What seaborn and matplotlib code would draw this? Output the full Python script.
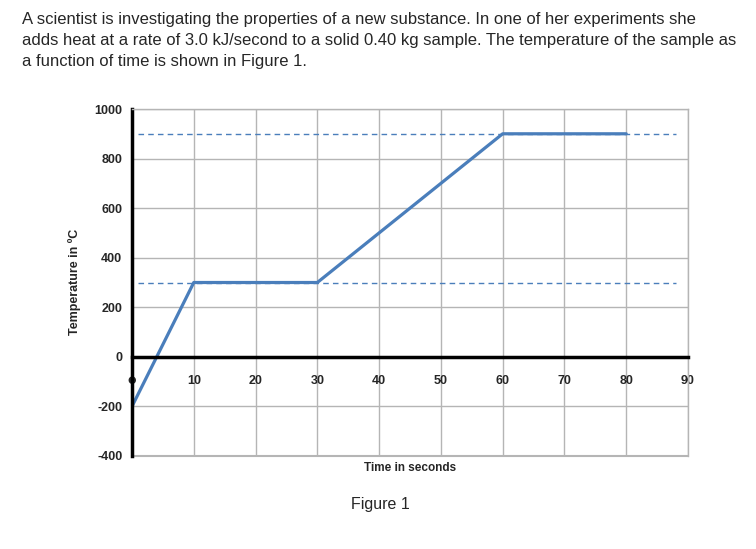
import numpy as np
import pandas as pd
import matplotlib
matplotlib.use("Agg")
import matplotlib.pyplot as plt
import seaborn as sns

# data
time_s = [0, 10, 30, 60, 80]
temp_c = [-200, 300, 300, 900, 900]
plateaus = [300, 900]
dash_span = [1, 88]
xticks = [0, 10, 20, 30, 40, 50, 60, 70, 80, 90]
yticks = [-400, -200, 0, 200, 400, 600, 800, 1000]

intro = ("A scientist is investigating the properties of a new substance. In one of her experiments she\n"
         "adds heat at a rate of 3.0 kJ/second to a solid 0.40 kg sample. The temperature of the sample as\n"
         "a function of time is shown in Figure 1.")

sns.set_style("white")
plt.rcParams['font.family'] = ['Liberation Sans', 'DejaVu Sans']

blue = '#4a7ebb'
grey = '#b5b5b5'
fig = plt.figure(figsize=(7.56, 5.49), dpi=100)
ax = fig.add_axes([132/756, 1-456/549, 556/756, 347/549])

df = pd.DataFrame({'t': time_s, 'T': temp_c})
sns.lineplot(data=df, x='t', y='T', ax=ax, color=blue, lw=2.3)
for p in plateaus:
    ax.plot(dash_span, [p, p], color=blue, lw=1, ls=(0, (4, 3)), zorder=1)

# axes frame: thick black axes through 0, light grey box
ax.spines['bottom'].set_position(('data', 0))
ax.spines['bottom'].set_color('black')
ax.spines['bottom'].set_linewidth(2.5)
ax.spines['left'].set_color('black')
ax.spines['left'].set_linewidth(2.5)
for s in ['top', 'right']:
    ax.spines[s].set_color(grey)
    ax.spines[s].set_linewidth(1)

ax.set_xlim(0, 90)
ax.set_ylim(-400, 1000)
ax.set_xticks(xticks)
ax.set_yticks(yticks)
ax.set_xticklabels(['\u25cf'] + [str(v) for v in xticks[1:]])
ax.set_yticklabels([str(v) for v in yticks])
ax.tick_params(axis='y', length=0, pad=7, labelsize=9)
ax.tick_params(axis='x', length=0, pad=13, labelsize=9)
for lab in ax.get_xticklabels() + ax.get_yticklabels():
    lab.set_fontweight('bold')
ax.get_xticklabels()[0].set_family('DejaVu Sans')
ax.get_xticklabels()[0].set_fontsize(7)
ax.grid(True, color=grey, lw=1)
ax.set_xlabel('')
ax.set_ylabel('')
ax.axhline(-400, color=grey, lw=1.5, clip_on=False, zorder=0)

ax.text(0.5, -0.035, 'Time in seconds', transform=ax.transAxes, ha='center', va='center',
        fontsize=8.5, fontweight='bold')
fig.text(75/756, 1-282/549, 'Temperature in \u00baC', rotation=90, ha='center', va='center',
         fontsize=9, fontweight='bold')
fig.text(380/756, 1-505/549, 'Figure 1', ha='center', va='center', fontsize=11.5)
fig.text(22/756, 1-12/549, intro, ha='left', va='top', fontsize=12, linespacing=1.5)

fig.savefig('out.png', dpi=100)
